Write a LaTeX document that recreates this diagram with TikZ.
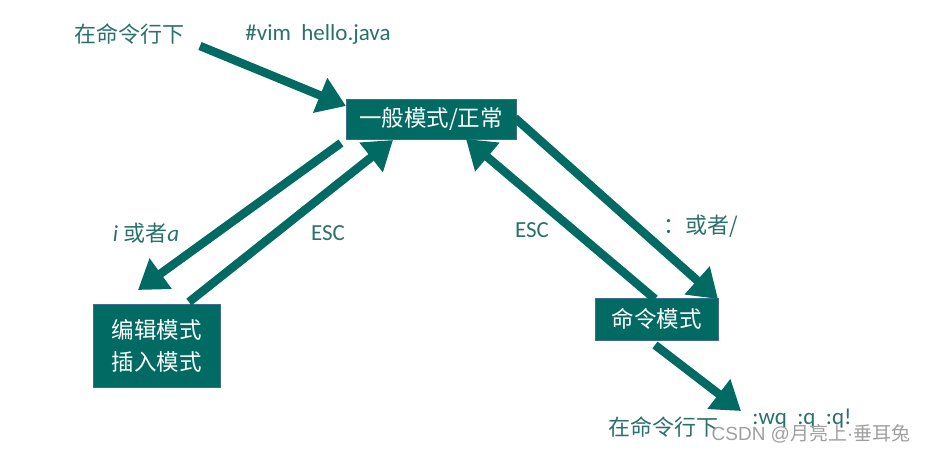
\documentclass[tikz,border=0pt]{standalone}
\usepackage{fontspec}
\setmainfont{Carlito}
\newfontfamily\cjk{Noto Sans CJK SC}
\newfontfamily\wmfont{Liberation Sans}
\usetikzlibrary{arrows.meta}
\definecolor{teal1}{HTML}{006A63}
\definecolor{tealtxt}{HTML}{2A716C}
\definecolor{boxline}{HTML}{3F6E8C}
\tikzset{
  modebox/.style={draw=boxline, line width=0.8pt, fill=teal1, text=white, font=\cjk\fontsize{22.5}{32}\selectfont, inner sep=0pt, align=center},
  lbl/.style={text=tealtxt, font=\fontsize{23}{26}\selectfont, inner sep=0pt},
  cjklbl/.style={text=tealtxt, font=\cjk\fontsize{22}{26}\selectfont, inner sep=0pt},
  bigarrow/.style={draw=teal1, line width=8.5pt, -{Triangle[length=28pt,width=36pt]}},
}
\begin{document}
\begin{tikzpicture}[x=1pt,y=-1pt]
\useasboundingbox (0,0) rectangle (926,453);
\node[modebox, minimum width=170pt, minimum height=40pt] (normal) at (431,119) {一般模式/正常};
\node[modebox, minimum width=127pt, minimum height=83pt] (edit) at (156.5,345.5) {编辑模式\\插入模式};
\node[modebox, minimum width=123pt, minimum height=42pt] (cmd) at (656.5,319) {命令模式};

\node[cjklbl] (cl1) at (129,34) {在命令行下};
\node[lbl] (vim) at (318,34) {\#vim\ \ hello.java};
\node[lbl] (ia) at (146,233) {\itshape i {\cjk\fontsize{22}{26}\selectfont 或者}a};
\node[lbl] (esc1) at (328,233) {ESC};
\node[lbl] (esc2) at (532,230) {ESC};
\node[cjklbl] (orr) at (701,226) {：或者/};
\node[cjklbl] (cl2) at (663,427) {在命令行下};
\node[lbl] (wq) at (802,419) {:wq\ \ :q\ \ :q!};
\node[text=gray!75, font=\cjk\fontsize{19}{21}\selectfont, inner sep=0pt] (wm) at (811,434) {{\wmfont CSDN @}月亮上{\wmfont ·}垂耳兔};

\coordinate (a1s) at (200,46);
\coordinate (a1e) at (346,106);
\coordinate (a2s) at (341,143);
\coordinate (a2e) at (138,290);
\coordinate (a3s) at (189,302);
\coordinate (a3e) at (393,140);
\coordinate (a4s) at (655,299);
\coordinate (a4e) at (466,139);
\coordinate (a5s) at (515,118);
\coordinate (a5e) at (718,299);
\coordinate (a6s) at (655,345);
\coordinate (a6e) at (741,411);

\draw[bigarrow] (a1s) -- (a1e);
\draw[bigarrow] (a2s) -- (a2e);
\draw[bigarrow] (a3s) -- (a3e);
\draw[bigarrow] (a4s) -- (a4e);
\draw[bigarrow] (a5s) -- (a5e);
\draw[bigarrow] (a6s) -- (a6e);
\end{tikzpicture}
\end{document}
